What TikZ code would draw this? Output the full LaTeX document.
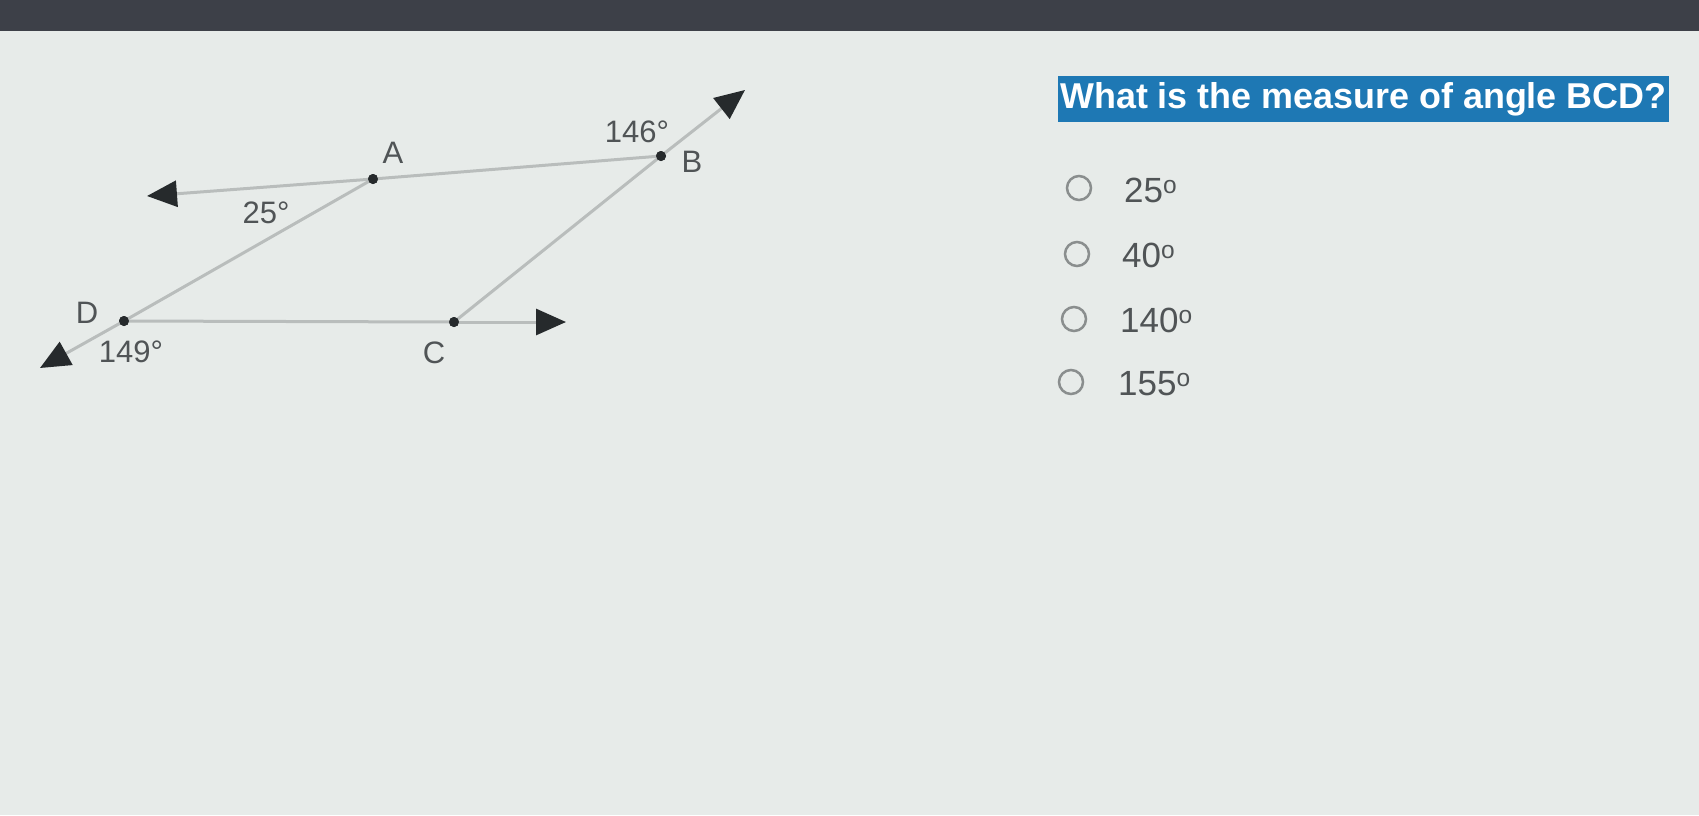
\documentclass[tikz,border=0pt]{standalone}
\usepackage{fontspec}
\setmainfont{Liberation Sans}
\usetikzlibrary{arrows.meta}
\definecolor{bgc}{HTML}{E7EBE9}
\definecolor{barc}{HTML}{3D4048}
\definecolor{linec}{HTML}{B9BDBC}
\definecolor{dotc}{HTML}{262A2C}
\definecolor{labc}{HTML}{505456}
\definecolor{qblue}{HTML}{1E78B4}
\definecolor{radc}{HTML}{8A8E8E}
\tikzset{
  ptdot/.style={circle,fill=dotc,inner sep=0pt,minimum size=10pt},
  rayline/.style={draw=linec,line width=3pt,-{Triangle[length=30pt,width=26pt,color=dotc]}},
  segline/.style={draw=linec,line width=3pt},
  lab/.style={text=labc,font=\fontsize{31}{36}\selectfont,inner sep=0pt},
  qbox/.style={fill=qblue,text=white,font=\bfseries\fontsize{35.9}{40}\selectfont,inner xsep=2pt,inner ysep=6pt},
  radio/.style={circle,draw=radc,line width=2.5pt,inner sep=0pt,minimum size=24pt},
  opt/.style={text=labc,font=\fontsize{35}{40}\selectfont,inner sep=0pt,anchor=west}
}
\begin{document}
\begin{tikzpicture}[x=1pt,y=-1pt]
\useasboundingbox (0,0) rectangle (1699,815);
\fill[bgc] (0,0) rectangle (1699,815);
\fill[barc] (0,0) rectangle (1699,31);
% points
\node[ptdot] (A) at (373,179) {};
\node[ptdot] (B) at (661,156) {};
\node[ptdot] (C) at (454,322) {};
\node[ptdot] (D) at (124,321) {};
\coordinate (Lend) at (147,196);
\coordinate (URend) at (745,90);
\coordinate (LLend) at (40,368);
\coordinate (Rend) at (566,322);
% lines
\draw[segline] (B.center) -- (A.center);
\draw[rayline] (A.center) -- (Lend);
\draw[segline] (C.center) -- (B.center);
\draw[rayline] (B.center) -- (URend);
\draw[segline] (A.center) -- (D.center);
\draw[rayline] (D.center) -- (LLend);
\draw[segline] (D.center) -- (C.center);
\draw[rayline] (C.center) -- (Rend);
\foreach \p in {A,B,C,D} \node[ptdot] at (\p) {};
% labels
\node[lab] (lA) at (393,153) {A};
\node[lab] (l146) at (637,132) {146°};
\node[lab] (lB) at (692,162) {B};
\node[lab] (l25) at (266,213) {25°};
\node[lab] (lD) at (87,313) {D};
\node[lab] (l149) at (131,352) {149°};
\node[lab] (lC) at (434,353) {C};
% question
\node[qbox,anchor=west] (q) at (1058,99) {What is the measure of angle BCD?};
% options
\node[radio] (r1) at (1079,188) {};
\node[radio] (r2) at (1077,254) {};
\node[radio] (r3) at (1074,319) {};
\node[radio] (r4) at (1071,382) {};
\node[opt] (o1) at (1124,190) {25\textsuperscript{o}};
\node[opt] (o2) at (1122,255) {40\textsuperscript{o}};
\node[opt] (o3) at (1120,320) {140\textsuperscript{o}};
\node[opt] (o4) at (1118,384) {155\textsuperscript{o}};
\end{tikzpicture}
\end{document}
